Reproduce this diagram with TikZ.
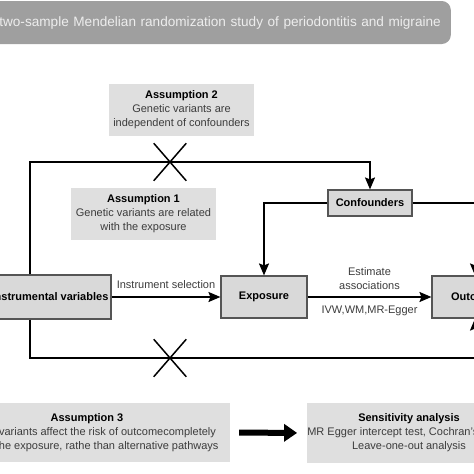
\documentclass[tikz,border=0pt]{standalone}
\usepackage{fontspec}
\setmainfont{Liberation Sans}
\usetikzlibrary{arrows.meta,shapes.misc}
\definecolor{bargray}{HTML}{9F9F9F}
\definecolor{notegray}{HTML}{DFDFDF}
\definecolor{boxgray}{HTML}{D9D9D9}
\definecolor{edgegray}{HTML}{555555}
\definecolor{txtgray}{HTML}{3C3C3C}
\newcommand{\headline}[1]{\textcolor{black}{\textbf{#1}}}

\begin{document}
\begin{tikzpicture}
[x=1pt, y=-1pt,
  font=\fontsize{11}{14}\selectfont,
  note/.style={fill=notegray, align=center, text=txtgray, inner sep=0pt},
  block/.style={draw=edgegray, line width=1.1pt, fill=boxgray,
    font=\fontsize{11}{14}\selectfont\bfseries, inner sep=0pt},
  link/.style={line width=1.8pt},
  tip/.style={-{Stealth[length=12pt,width=10pt,inset=2pt]}},
  nogo/.style={cross out, draw, line width=1.5pt, minimum width=31pt,
    minimum height=36pt, inner sep=0pt},
  lbl/.style={text=txtgray, inner sep=0pt}]
\useasboundingbox (0,0) rectangle (474,474);
\clip (0,0) rectangle (474,474);

\node[fill=bargray, rounded corners=9pt, text=white!93!black,
  font=\fontsize{13.6}{16}\selectfont, anchor=east, text width=500pt,
  align=right, inner xsep=10pt, minimum height=43pt] (title) at (451,22.5)
  {two-sample Mendelian randomization study of periodontitis and migraine};

% assumptions 1 and 2
\node[note, minimum width=145pt, minimum height=52pt] (a2) at (181.5,110)
  {\headline{Assumption 2}\\Genetic variants are\\independent of confounders};
\node[note, minimum width=145pt, minimum height=52pt] (a1) at (143.5,214)
  {\headline{Assumption 1}\\Genetic variants are related\\with the exposure};

% main blocks
\node[block, minimum width=84pt, minimum height=26pt] (conf) at (370,203) {Confounders};
\node[block, minimum width=122pt, minimum height=44pt] (iv) at (50,297) {Instrumental variables};
\node[block, minimum width=86pt, minimum height=42pt] (expo) at (264,297) {Exposure};
\node[block, minimum width=86pt, minimum height=42pt] (out) at (475,297) {Outcome};

\coordinate (tl) at (30,162);
\coordinate (bl) at (30,358);

\draw[link, tip] (iv.north -| tl) -- (tl) -| (conf.north);
\node[nogo] (x1) at (170,162) {};
\draw[link, tip] (conf.west) -| (expo.north);
\draw[link, tip] (conf.east) -| (out.north);
\draw[link, tip] (iv.east) -- (expo.west)
  node[lbl, midway, above=7pt] {Instrument selection};
\draw[link, tip] (expo.east) -- (out.west)
  node[lbl, midway, above=6pt, align=center] {Estimate\\associations}
  node[lbl, midway, below=8pt] {IVW,WM,MR-Egger};
\draw[link, tip] (iv.south -| bl) -- (bl) -| (out.south);
\node[nogo] (x2) at (170,358) {};

% bottom row
\node[note, minimum width=286pt, minimum height=59pt] (a3) at (87,432.5)
  {\headline{Assumption 3}\\Genetic variants affect the risk of outcomecompletely\\through the exposure, rathe than alternative pathways};
\node[note, minimum width=202pt, minimum height=60pt] (sens) at (409,433)
  {\headline{Sensitivity analysis}\\MR Egger intercept test, Cochran's Q test\\Leave-one-out analysis};
\draw[line width=6pt, -{Triangle[length=13pt,width=17pt]},
  shorten <=9pt, shorten >=10pt] (a3.east) -- (sens.west);
\end{tikzpicture}
\end{document}
